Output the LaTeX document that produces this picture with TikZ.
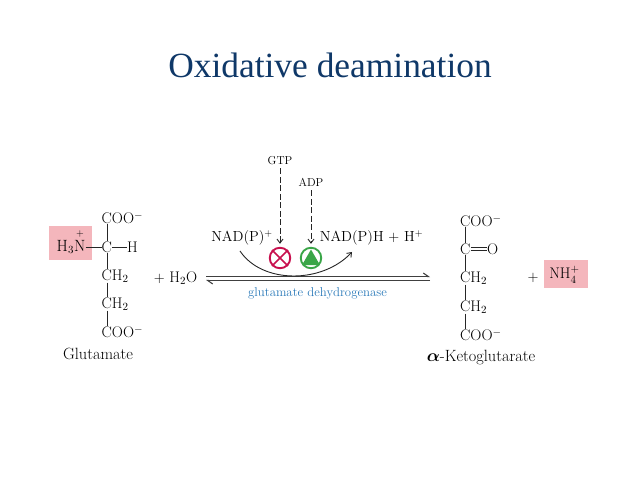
\documentclass[tikz,border=0pt]{standalone}
\usepackage{amsmath,amsfonts}
\usepackage{bm}
\usepackage{xcolor}
\usepackage{fontspec}
\newfontfamily\titlefont{Liberation Serif}
\usepackage{tikz}
\usetikzlibrary{arrows.meta,shapes.geometric}
\definecolor{titlenavy}{HTML}{0F3868}
\definecolor{rosebox}{HTML}{F4B6BC}
\definecolor{inhibred}{HTML}{C8104E}
\definecolor{activgreen}{HTML}{3AA648}
\definecolor{enzblue}{HTML}{2878B8}
\tikzset{
  chem/.style={inner sep=0pt,text=black,font=\fontsize{15.4}{17}\selectfont},
  caption/.style={inner sep=0pt,text=black,font=\fontsize{16.3}{18}\selectfont},
  reagent/.style={inner sep=0pt,text=black,font=\fontsize{14.6}{16}\selectfont},
  small/.style={inner sep=0pt,text=black,font=\fontsize{11.5}{13}\selectfont},
  bond/.style={black!85,line width=.9pt},
  dashbond/.style={black!85,line width=.9pt,dash pattern=on 6pt off 2.5pt,-{Straight Barb[length=4pt,width=6pt]}},
  rosepatch/.style={fill=rosebox,draw=none,inner sep=0pt}
}
\begin{document}
\begin{tikzpicture}[x=1pt,y=-1pt]
  \useasboundingbox (0,0) rectangle (638,478);
  \node[text=titlenavy,inner sep=0pt,font=\titlefont\fontsize{35.4}{40}\selectfont] (title) at (330,65) {Oxidative deamination};
  % glutamate
  \node[rosepatch,minimum width=43pt,minimum height=34pt] (patchN) at (70.5,243) {};
  \node[chem,anchor=west] (cooA) at (101.5,218) {COO$^-$};
  \node[chem,anchor=west] (cA) at (101.5,247) {C};
  \node[chem,anchor=west] (hA) at (127,247) {H};
  \node[caption,anchor=east] (nA) at (85.5,247) {H$_3$N};
  \node[small,font=\fontsize{10}{11}\selectfont] (plusA) at (80,234) {$+$};
  \node[chem,anchor=west] (chA) at (101.5,276) {CH$_2$};
  \node[chem,anchor=west] (chB) at (101.5,304) {CH$_2$};
  \node[chem,anchor=west] (cooB) at (101.5,332) {COO$^-$};
  \node[caption] (glu) at (98,354) {Glutamate};
  \node[chem] (water) at (175.5,278) {$+$ H$_2$O};
  \draw[bond] (nA) -- (cA);
  \draw[bond] (cA) -- (hA);
  \foreach \a/\b in {cooA/cA,cA/chA,chA/chB,chB/cooB}
    \draw[bond] ([xshift=5.5pt]\a.south west) -- ([xshift=5.5pt]\b.north west);
  % regulators
  \node[small] (gtp) at (280,161) {GTP};
  \node[small] (adp) at (311,182) {ADP};
  \node[reagent] (nad) at (242,238) {NAD(P)$^+$};
  \node[reagent] (nadh) at (371.5,238) {NAD(P)H $+$ H$^+$};
  \node[draw=inhibred,circle,line width=1.9pt,minimum size=20.5pt,inner sep=0pt] (inhib) at (280,258) {};
  \node[draw=activgreen,circle,line width=1.9pt,minimum size=20.5pt,inner sep=0pt] (activ) at (311,258) {};
  \draw[inhibred,line width=1.6pt] (inhib.45) -- (inhib.225);
  \draw[inhibred,line width=1.6pt] (inhib.135) -- (inhib.315);
  \node[regular polygon,regular polygon sides=3,fill=activgreen,inner sep=0pt,minimum size=21pt] (tri) at (311,260) {};
  \draw[dashbond] (gtp.south) ++(0,3) -- ([shift={(0,-3)}]inhib.north);
  \draw[dashbond] (adp.south) ++(0,4) -- ([shift={(0,-3)}]activ.north);
  % reaction arrows
  \coordinate (leftA) at (206,276.5);
  \coordinate (rightA) at (430,276.5);
  \coordinate (leftB) at (206,280.5);
  \coordinate (rightB) at (430,280.5);
  \draw[black!75,line width=1.1pt,-{Straight Barb[left,length=5pt,width=7pt]}] (leftA) -- (rightA);
  \draw[black!75,line width=1.1pt,-{Straight Barb[left,length=5pt,width=7pt]}] (rightB) -- (leftB);
  \coordinate (curveA) at (240,251);
  \coordinate (curveB) at (352,252);
  \draw[black!85,line width=.9pt,-{Straight Barb[length=4pt,width=6pt]}] (curveA) .. controls (262,284) and (322,284) .. (curveB);
  \node[inner sep=0pt,text=enzblue,font=\fontsize{12.8}{14}\selectfont] (enz) at (317.5,293) {glutamate dehydrogenase};
  % ketoglutarate
  \node[chem,anchor=west] (cooC) at (460,221) {COO$^-$};
  \node[chem,anchor=west] (cC) at (460,249) {C};
  \node[chem,anchor=west] (oC) at (487,249) {O};
  \node[chem,anchor=west] (chC) at (460,278) {CH$_2$};
  \node[chem,anchor=west] (chD) at (460,307) {CH$_2$};
  \node[chem,anchor=west] (cooD) at (460,335) {COO$^-$};
  \node[caption] (keto) at (481,358) {$\bm{\alpha}$-Ketoglutarate};
  \node[chem] (plusB) at (533,278) {$+$};
  \node[rosepatch,minimum width=44pt,minimum height=28pt] (patchH) at (566,274) {};
  \node[chem] (ammon) at (564.5,275) {NH$_4^+$};
  \draw[bond] ([yshift=-1.4pt]cC.east) -- ([yshift=-1.4pt]oC.west);
  \draw[bond] ([yshift=1.4pt]cC.east) -- ([yshift=1.4pt]oC.west);
  \foreach \a/\b in {cooC/cC,cC/chC,chC/chD,chD/cooD}
    \draw[bond] ([xshift=5.5pt]\a.south west) -- ([xshift=5.5pt]\b.north west);
\end{tikzpicture}
\end{document}
